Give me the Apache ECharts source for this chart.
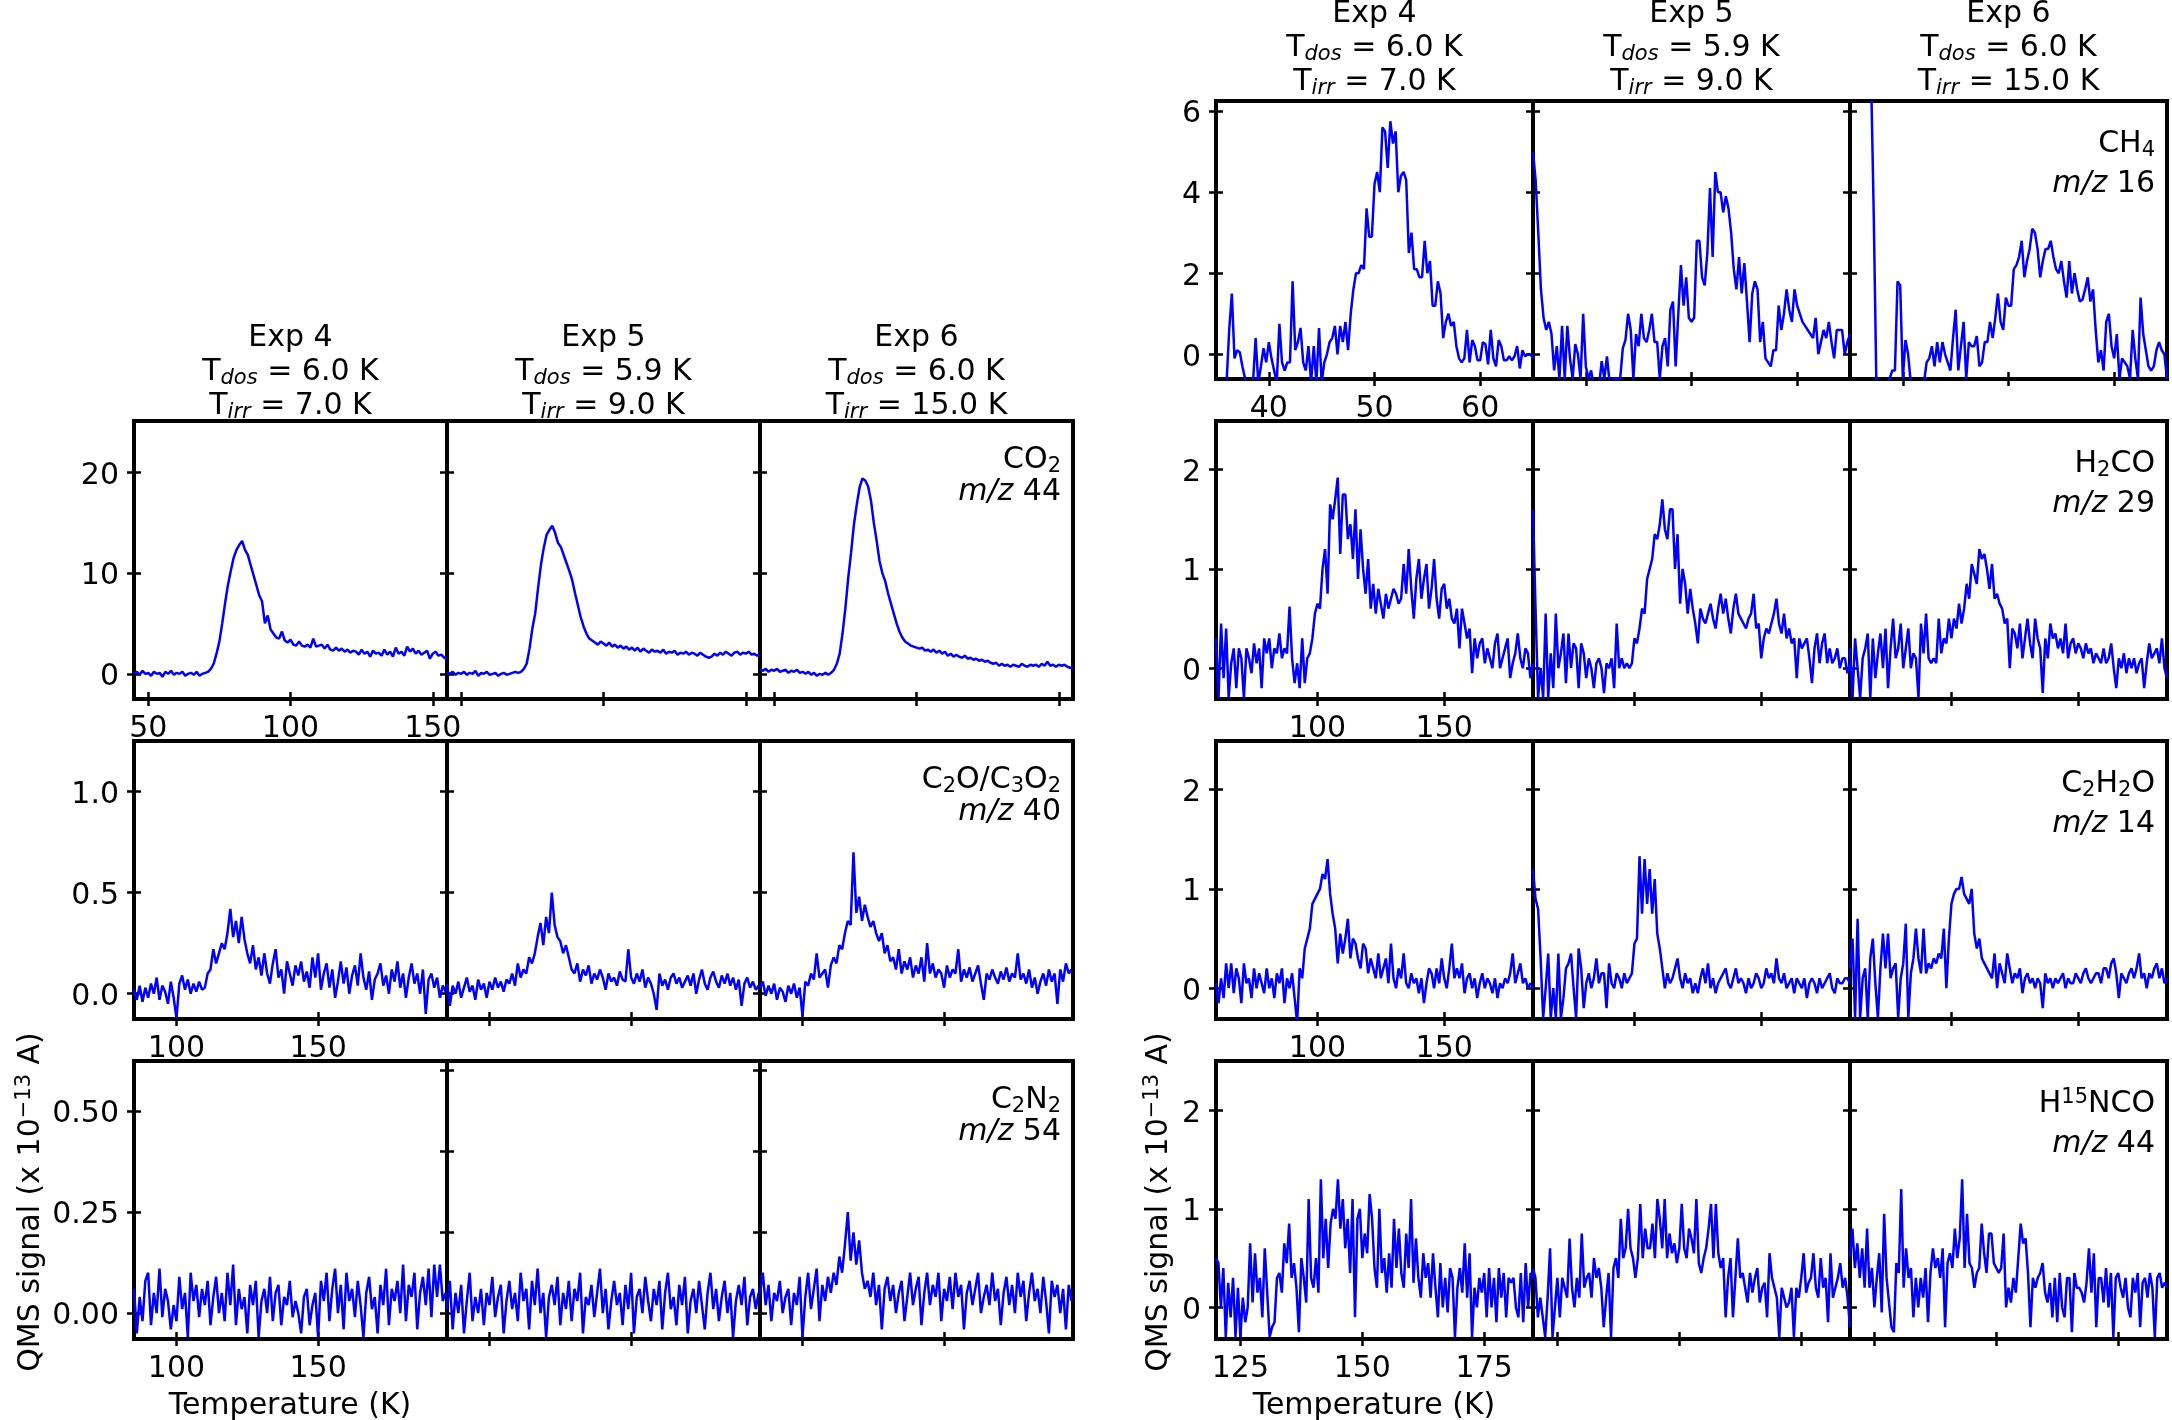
<!DOCTYPE html>
<html>
<head>
<meta charset="utf-8">
<script src="https://cdn.jsdelivr.net/npm/echarts@6/dist/echarts.min.js"></script>
<style>
  html, body { margin: 0; padding: 0; background: #fff; }
  #chart { width: 2172px; height: 1420px; }
</style>
</head>
<body>
<div id="chart"></div>
<script>
// ---- temperature grids (K) ----
const tempCO2 = [45,46,47,48,49,50,51,52,53,54,55,56,57,58,59,60,61,62,63,64,65,66,67,68,69,70,71,72,73,74,
  75,76,77,78,79,80,81,82,83,84,85,86,87,88,89,90,91,92,93,94,95,96,97,98,99,100,101,102,103,104,
  105,106,107,108,109,110,111,112,113,114,115,116,117,118,119,120,121,122,123,124,125,126,127,128,129,130,
  131,132,133,134,135,136,137,138,139,140,141,142,143,144,145,146,147,148,149,150,151,152,153,154,155];
const tempLeft = [85,86,87,88,89,90,91,92,93,94,95,96,97,98,99,100,101,102,103,104,105,106,107,108,109,110,
  111,112,113,114,115,116,117,118,119,120,121,122,123,124,125,126,127,128,129,130,131,132,133,134,135,
  136,137,138,139,140,141,142,143,144,145,146,147,148,149,150,151,152,153,154,155,156,157,158,159,160,
  161,162,163,164,165,166,167,168,169,170,171,172,173,174,175,176,177,178,179,180,181,182,183,184,185,
  186,187,188,189,190,191,192,193,194,195];
const tempCH4 = [35,35.25,35.5,35.75,36,36.25,36.5,36.75,37,37.25,37.5,37.75,38,38.25,38.5,38.75,39,39.25,39.5,39.75,
  40,40.25,40.5,40.75,41,41.25,41.5,41.75,42,42.25,42.5,42.75,43,43.25,43.5,43.75,44,44.25,44.5,44.75,
  45,45.25,45.5,45.75,46,46.25,46.5,46.75,47,47.25,47.5,47.75,48,48.25,48.5,48.75,49,49.25,49.5,49.75,
  50,50.25,50.5,50.75,51,51.25,51.5,51.75,52,52.25,52.5,52.75,53,53.25,53.5,53.75,54,54.25,54.5,54.75,
  55,55.25,55.5,55.75,56,56.25,56.5,56.75,57,57.25,57.5,57.75,58,58.25,58.5,58.75,59,59.25,59.5,59.75,
  60,60.25,60.5,60.75,61,61.25,61.5,61.75,62,62.25,62.5,62.75,63,63.25,63.5,63.75,64,64.25,64.5,64.75,65];
const tempMid = [60,61,62,63,64,65,66,67,68,69,70,71,72,73,74,75,76,77,78,79,80,81,82,83,84,85,86,87,88,89,
  90,91,92,93,94,95,96,97,98,99,100,101,102,103,104,105,106,107,108,109,110,111,112,113,114,115,116,117,118,119,
  120,121,122,123,124,125,126,127,128,129,130,131,132,133,134,135,136,137,138,139,140,141,142,143,144,145,146,147,148,149,
  150,151,152,153,154,155,156,157,158,159,160,161,162,163,164,165,166,167,168,169,170,171,172,173,174,175,176,177,178,179,
  180,181,182,183,184,185];
const tempHNCO = [120,120.5,121,121.5,122,122.5,123,123.5,124,124.5,125,125.5,126,126.5,127,127.5,128,128.5,129,129.5,
  130,130.5,131,131.5,132,132.5,133,133.5,134,134.5,135,135.5,136,136.5,137,137.5,138,138.5,139,139.5,
  140,140.5,141,141.5,142,142.5,143,143.5,144,144.5,145,145.5,146,146.5,147,147.5,148,148.5,149,149.5,
  150,150.5,151,151.5,152,152.5,153,153.5,154,154.5,155,155.5,156,156.5,157,157.5,158,158.5,159,159.5,
  160,160.5,161,161.5,162,162.5,163,163.5,164,164.5,165,165.5,166,166.5,167,167.5,168,168.5,169,169.5,
  170,170.5,171,171.5,172,172.5,173,173.5,174,174.5,175,175.5,176,176.5,177,177.5,178,178.5,179,179.5,
  180,180.5,181,181.5,182,182.5,183,183.5,184,184.5,185];

// ---- QMS signals (x 1e-13 A) ----
const co2Exp4 = [0.0,0.2,-0.1,0.3,0.0,0.1,-0.2,0.2,0.0,0.1, -0.3,0.2,0.0,0.3,-0.1,0.1,0.0,0.2,-0.2,0.0,
  0.1,-0.1,0.2,-0.2,0.0,0.1,0.2,0.5,1.0,2.0, 3.2,5.0,7.0,8.8,10.2,11.5,12.3,12.8,13.2,12.3,
  11.8,10.8,9.8,8.8,7.8,7.2,5.0,5.8,4.4,4.0, 3.6,3.5,4.2,3.3,3.1,3.4,2.9,2.8,3.2,2.8,
  2.7,2.9,2.6,3.5,2.7,2.8,2.9,2.5,2.9,2.4, 2.3,2.6,2.3,2.5,2.2,2.4,2.1,2.3,2.2,1.9,
  2.4,2.0,2.2,1.7,2.3,2.0,2.1,1.8,2.4,1.9, 2.2,1.7,2.6,2.0,2.2,1.8,2.7,2.2,2.5,2.0,
  2.3,1.9,2.1,2.3,1.5,2.0,2.2,1.8,1.9,1.6, 1.5];
const co2Exp5 = [0.1,0.0,0.2,-0.1,0.1,0.0,0.2,-0.1,0.1,0.0, 0.3,-0.2,0.1,0.0,0.2,-0.1,0.0,0.1,-0.2,0.0,
  0.1,-0.1,0.0,0.1,0.2,0.1,0.2,0.5,1.0,2.5, 4.5,6.0,8.5,10.8,12.5,13.8,14.3,14.7,14.0,13.0,
  12.6,11.8,11.0,10.2,9.3,8.0,6.8,5.6,4.7,4.0, 3.5,3.3,3.1,2.9,3.2,3.0,2.8,3.1,2.7,2.9,
  2.6,2.8,2.5,2.7,2.4,2.6,2.3,2.6,2.2,2.5, 2.3,2.1,2.4,2.2,2.3,2.1,2.4,2.0,2.2,2.1,
  2.3,1.9,2.1,2.0,2.2,1.9,2.1,2.0,1.8,2.1, 1.9,1.7,1.6,1.7,2.0,1.8,2.1,1.9,2.2,2.0,
  1.8,2.1,2.2,1.9,2.1,2.0,2.2,1.9,2.0,1.8, 1.9];
const co2Exp6 = [0.4,0.3,0.5,0.2,0.4,0.3,0.5,0.2,0.3,0.4, 0.1,0.3,0.2,0.4,0.1,0.2,0.0,0.2,-0.1,0.1,
  -0.2,0.0,-0.1,0.1,-0.1,0.1,0.4,1.0,2.0,4.0, 6.5,9.5,12.0,14.8,16.8,18.5,19.4,19.2,18.6,17.2,
  15.0,13.2,11.2,10.0,9.2,8.0,7.0,6.0,5.0,4.2, 3.6,3.2,3.0,2.8,2.7,2.6,2.5,2.6,2.3,2.4,
  2.2,2.4,2.1,2.3,2.0,2.2,1.8,2.0,1.7,1.9, 1.7,1.6,1.8,1.5,1.6,1.4,1.5,1.3,1.4,1.2,
  1.3,1.1,1.0,1.1,0.8,1.0,0.8,0.9,0.7,0.9, 0.8,0.7,1.0,0.8,0.7,0.9,0.8,0.9,0.7,1.0,
  0.8,1.2,0.8,0.9,0.7,0.9,0.8,0.9,0.7,0.6, 0.5];

const c2oExp4 = [0.02,-0.03,0.04,-0.04,0.03,-0.02,0.05,0.0,0.08,-0.03, 0.04,0.01,-0.05,0.06,-0.02,-0.12,0.05,0.09,0.02,0.07,
  0.0,0.05,0.01,0.06,0.02,0.03,0.1,0.12,0.22,0.15, 0.2,0.25,0.22,0.3,0.42,0.28,0.36,0.25,0.38,0.27,
  0.2,0.15,0.24,0.12,0.18,0.09,0.2,0.1,0.05,0.15, 0.22,0.08,0.12,0.0,0.16,0.1,0.04,0.14,0.09,0.16,
  0.06,0.11,0.03,0.18,0.08,0.2,0.02,0.1,0.15,0.03, 0.12,-0.02,0.06,0.16,0.05,0.13,0.0,0.09,0.14,0.04,
  0.2,0.08,0.02,0.11,-0.03,0.07,0.1,0.15,0.04,0.09, 0.0,0.12,0.06,0.16,0.03,0.1,-0.02,0.08,0.15,0.05,
  0.1,0.0,0.12,-0.1,0.07,0.1,0.03,0.08,-0.02,0.04, 0.01];
const c2oExp5 = [0.05,-0.06,0.04,0.0,0.06,-0.02,0.03,0.08,0.01,0.04, -0.03,0.07,0.02,0.05,-0.02,0.06,0.02,0.08,0.03,0.06,
  0.01,0.07,0.05,0.1,0.04,0.15,0.08,0.12,0.1,0.18, 0.15,0.2,0.28,0.35,0.24,0.38,0.3,0.5,0.34,0.28,
  0.26,0.2,0.24,0.18,0.12,0.1,0.15,0.06,0.12,0.09, 0.14,0.05,0.1,0.07,0.12,0.08,0.02,0.1,0.06,0.08,
  0.04,0.11,0.07,0.06,0.22,0.08,0.05,0.1,0.06,0.12, 0.03,0.08,0.05,0.0,-0.08,0.1,0.04,0.07,0.02,0.08,
  0.1,0.05,0.08,0.03,0.06,0.09,0.04,0.1,0.0,0.07, 0.12,0.05,0.02,0.08,0.11,0.06,0.03,0.09,0.05,0.1,
  0.04,0.08,0.02,0.07,-0.06,0.05,0.08,0.03,0.06,0.02, 0.04];
const c2oExp6 = [0.03,0.06,-0.01,0.04,0.0,0.05,-0.03,0.03,0.01,-0.04, 0.04,0.0,0.05,-0.02,0.03,-0.11,0.06,0.04,0.1,0.07,
  0.2,0.08,0.1,0.12,0.03,0.14,0.18,0.15,0.24,0.22, 0.3,0.36,0.34,0.7,0.4,0.48,0.36,0.44,0.38,0.33,
  0.36,0.3,0.26,0.3,0.2,0.24,0.16,0.18,0.12,0.22, 0.1,0.16,0.12,0.18,0.08,0.14,0.1,0.18,0.06,0.25,
  0.1,0.15,0.08,0.12,0.1,0.03,0.14,0.08,0.12,0.1, 0.22,0.06,0.12,0.08,0.13,0.06,0.1,0.14,0.05,-0.03,
  0.1,0.07,0.12,0.08,0.05,0.11,0.07,0.13,0.06,0.1, 0.08,0.2,0.07,0.1,0.05,0.12,0.03,0.08,0.0,0.06,
  0.1,0.04,0.12,0.06,0.1,-0.05,0.12,0.06,0.15,0.1, 0.12];

const c2n2Exp4 = [0.06,-0.05,0.04,-0.02,0.08,0.1,-0.03,0.05,0.0,0.11, -0.01,0.06,0.03,-0.04,0.02,-0.02,0.09,0.01,0.05,-0.06,
  0.1,0.03,0.07,-0.01,0.06,0.02,0.08,-0.03,0.04,0.09, 0.0,0.05,-0.02,0.1,0.02,0.12,-0.03,0.06,0.01,0.04,
  -0.05,0.07,0.02,0.08,-0.06,0.03,0.06,0.0,0.09,-0.02, 0.05,0.07,-0.03,0.04,0.02,0.08,-0.01,0.03,0.0,-0.05,
  0.04,0.06,-0.03,0.02,0.05,-0.06,0.08,0.03,0.1,-0.02, 0.06,0.11,0.0,0.07,-0.04,0.1,0.03,0.06,-0.01,0.08,
  0.02,-0.06,0.05,0.09,0.01,0.04,-0.05,0.07,0.02,0.11, -0.03,0.06,0.03,0.08,0.0,0.12,-0.02,0.07,0.04,0.1,
  -0.04,0.05,0.09,0.02,0.11,-0.01,0.12,0.04,0.12,0.03, 0.05];
const c2n2Exp5 = [0.01,0.08,-0.04,0.05,0.0,0.07,-0.05,0.03,0.1,-0.02, 0.04,0.0,0.06,-0.03,0.05,0.02,0.09,-0.01,0.04,0.07,
  -0.05,0.03,0.08,0.01,0.05,-0.02,0.1,0.03,0.06,-0.04, 0.08,0.02,0.11,0.0,0.05,-0.06,0.04,0.07,0.02,0.09,
  -0.03,0.05,0.01,0.08,-0.02,0.06,0.03,0.1,-0.05,0.04, 0.02,0.07,-0.01,0.05,0.11,0.0,0.06,-0.04,0.03,0.08,
  0.02,0.05,-0.03,0.07,0.01,0.1,-0.05,0.04,0.06,0.0, 0.09,0.03,-0.02,0.06,0.02,0.08,-0.04,0.05,0.1,0.01,
  0.04,-0.03,0.07,0.02,0.09,-0.05,0.03,0.06,0.0,0.08, 0.02,-0.04,0.05,0.1,0.01,0.06,-0.02,0.04,0.08,0.0,
  0.05,-0.06,0.03,0.07,0.02,0.09,-0.03,0.04,0.06,0.01, 0.05];
const c2n2Exp6 = [0.05,0.1,0.02,0.07,-0.02,0.05,0.03,0.08,0.0,0.04, 0.06,-0.03,0.05,0.02,0.09,-0.06,0.04,0.1,0.01,0.06,
  0.11,-0.02,0.07,0.03,0.09,0.05,0.1,0.07,0.14,0.1, 0.17,0.25,0.13,0.2,0.12,0.18,0.1,0.06,0.08,0.04,
  0.1,0.02,0.07,-0.04,0.06,0.09,0.03,0.07,0.0,0.05, 0.08,-0.02,0.04,0.1,0.02,0.06,0.09,-0.03,0.05,0.1,
  0.02,0.07,0.04,0.1,-0.02,0.06,0.03,0.09,0.01,0.1, 0.04,0.07,-0.04,0.05,0.08,0.02,0.06,0.1,0.0,0.04,
  0.07,0.02,0.1,0.03,0.06,-0.03,0.05,0.09,0.02,0.07, 0.0,0.1,0.04,0.08,-0.02,0.05,0.1,0.03,0.06,0.0,
  0.09,0.03,-0.05,0.08,0.04,0.07,0.0,0.06,-0.04,0.07, 0.03];

const ch4Exp4 = [-0.8,-0.8,-0.8,-0.8,-0.7,0.6,1.5,-0.1,0.1,0.05, -0.3,-0.6,-0.8,-0.8,-0.7,0.4,-0.7,-0.3,0.15,-0.2,
  0.3,-0.1,-0.4,-0.7,0.75,-0.2,-0.4,-0.2,-0.2,1.8, 0.1,0.3,0.65,-0.2,-0.4,0.2,-0.7,0.2,-0.7,0.65,
  -0.7,-0.2,0.0,0.3,0.4,0.7,0.0,0.7,0.3,0.8, 0.1,1.0,1.6,2.0,2.0,2.2,2.1,3.6,2.9,2.9,
  4.2,4.5,4.0,5.6,5.5,4.6,5.75,5.2,5.5,4.0, 4.4,4.5,4.3,2.5,3.0,2.1,2.1,1.9,1.9,2.8,
  2.0,2.3,1.2,1.2,1.8,1.5,0.4,0.8,1.0,0.7, 0.8,0.2,-0.1,-0.2,-0.1,0.6,-0.2,0.35,0.2,-0.15,
  -0.15,0.3,0.25,-0.25,0.6,-0.1,-0.3,0.35,0.2,-0.15, -0.15,-0.05,-0.15,-0.05,0.2,-0.35,0.1,-0.05,0.0,0.0, -0.1];
const ch4Exp5 = [5.0,4.3,3.0,1.6,0.9,0.6,0.8,0.5,-0.4,0.2, -0.6,0.7,-0.6,0.7,-0.1,-0.6,0.25,0.0,-0.6,1.0,
  -0.3,-0.6,-0.4,-0.8,-0.8,-0.8,-0.17,-0.6,-0.05,-0.7, -0.7,-0.6,-0.6,-0.6,0.15,0.35,1.0,0.6,-0.6,0.5,
  0.2,1.0,0.4,0.3,0.6,1.0,0.3,0.3,-0.6,0.2, 0.4,-0.3,1.1,1.3,-0.3,1.0,2.2,1.2,1.9,0.9,
  0.8,0.9,2.8,2.8,1.9,1.7,2.5,4.1,2.4,4.5, 4.0,4.0,3.5,3.9,3.6,3.0,2.1,1.6,2.4,1.5,
  2.25,1.3,0.3,1.5,1.8,1.6,0.3,0.8,-0.1,-0.2, -0.3,0.1,0.1,1.2,0.6,1.0,1.6,1.1,0.8,1.6,
  1.2,1.0,0.8,0.7,0.6,0.5,0.4,0.9,0.0,0.3, 0.6,0.4,0.8,0.3,-0.1,0.6,0.6,0.6,0.0,0.3, 0.5];
const ch4Exp6 = [9,9,9,9,9,9,9,9,6.8,3.4, -0.8,-0.8,-0.8,-0.8,-0.7,-0.6,-0.4,-0.4,1.8,1.7,
  -0.6,0.35,0.0,-0.7,-0.8,-0.8,-0.8,-0.8,-0.7,-0.2, -0.1,0.2,-0.3,0.3,-0.2,0.3,0.0,-0.2,-0.4,0.4,
  1.1,-0.4,0.2,0.8,-0.6,0.3,0.2,0.2,0.45,-0.3, -0.2,0.3,0.3,0.8,0.4,0.9,1.5,0.8,0.6,1.4,
  1.2,1.2,2.1,2.2,2.4,2.8,1.9,2.3,2.6,3.1, 3.0,2.6,1.9,2.3,2.6,2.6,2.8,2.4,2.1,2.0,
  2.3,1.8,1.4,2.3,1.5,2.0,1.6,1.3,1.35,1.6, 1.9,1.3,1.6,0.6,-0.2,0.1,-0.4,0.8,1.0,0.2,
  -0.1,0.5,-0.6,-0.1,-0.2,-0.3,-0.6,0.6,-0.1,-0.6, 1.4,0.5,0.1,-0.3,-0.4,-0.3,0.1,0.3,0.1,0.0, -0.6];

const h2coExp4 = [0.3,-0.3,0.45,-0.1,0.4,-0.3,0.05,0.2,-0.2,0.2, 0.1,-0.3,0.2,0.1,-0.05,0.25,0.05,0.2,-0.2,0.3,
  0.15,0.3,0.0,0.2,0.15,0.35,0.1,0.2,0.15,0.62, 0.1,-0.15,0.05,-0.2,0.3,-0.15,0.1,0.15,0.3,0.55,
  0.65,0.6,1.0,1.2,0.75,1.65,1.5,1.7,1.92,1.15, 1.75,1.75,1.3,1.45,1.1,1.6,0.9,1.4,1.0,0.75,
  1.1,0.6,0.85,0.55,0.8,0.65,0.5,0.75,0.6,0.7, 0.8,0.75,0.65,0.7,1.05,0.75,1.2,0.8,0.5,0.9,
  1.1,0.7,0.9,1.05,0.6,0.8,1.1,0.7,0.5,0.8, 0.85,0.6,0.7,0.5,0.45,0.6,0.2,0.6,0.45,0.3,
  0.4,-0.05,0.3,0.1,0.25,0.3,0.05,0.2,0.1,0.0, 0.25,0.35,0.0,0.1,0.2,0.3,-0.1,0.05,0.15,0.35,
  0.1,0.0,0.2,0.15,-0.1,0.05];
const h2coExp5 = [1.6,0.6,-0.3,0.0,-0.3,0.55,-0.3,0.15,-0.2,0.55, 0.0,0.15,0.35,-0.15,0.35,0.0,0.25,0.2,-0.2,0.25,
  0.15,-0.1,0.1,0.0,-0.2,0.05,0.1,0.0,-0.25,0.05, 0.0,0.1,-0.2,0.45,0.0,0.1,0.0,0.05,0.0,0.05,
  0.3,0.25,0.4,0.6,0.55,0.9,1.0,1.1,1.35,1.3, 1.45,1.7,1.4,1.3,1.6,1.6,1.0,1.35,0.65,1.0,
  0.85,0.55,0.8,0.6,0.45,0.25,0.6,0.5,0.45,0.55, 0.65,0.5,0.4,0.6,0.75,0.55,0.7,0.5,0.35,0.6,
  0.75,0.55,0.5,0.45,0.4,0.5,0.55,0.75,0.4,0.45, 0.1,0.3,0.4,0.35,0.45,0.55,0.7,0.45,0.35,0.55,
  0.3,0.4,0.25,0.3,-0.1,0.3,0.2,0.25,0.3,0.1, -0.15,0.2,0.35,0.05,0.25,0.35,0.05,0.2,0.05,0.1,
  0.2,0.0,0.1,0.1,-0.05,0.05];
const h2coExp6 = [0.2,-0.3,0.3,0.0,-0.3,0.1,0.2,0.35,-0.3,0.3, -0.1,0.15,0.35,0.0,0.4,-0.2,0.2,0.5,0.1,0.2,
  0.45,0.0,0.2,0.4,0.0,0.15,0.1,-0.3,0.45,0.15, 0.55,0.1,0.05,0.1,0.05,0.5,0.15,0.3,0.25,0.5,
  0.3,0.5,0.4,0.65,0.45,0.6,0.85,0.7,1.05,0.95, 0.85,1.2,1.1,1.15,1.0,0.8,1.05,0.7,0.75,0.65,
  0.6,0.45,0.5,0.0,0.4,0.35,0.2,0.45,0.1,0.3, 0.5,0.25,0.1,0.5,0.3,0.2,-0.25,0.3,0.1,0.45,
  0.3,0.35,0.2,0.3,0.15,0.45,0.1,0.25,0.3,0.15, 0.25,0.2,0.1,0.25,0.15,0.2,0.05,0.15,0.1,0.05,
  0.2,0.05,0.1,0.25,0.0,-0.2,0.1,0.0,0.15,-0.05, 0.1,0.0,0.1,-0.05,0.05,0.1,-0.2,0.05,0.25,0.1,
  0.15,0.2,0.05,0.3,0.0,-0.1];

const c2h2oExp4 = [0.05,-0.15,0.1,-0.1,0.25,0.0,0.25,-0.05,0.2,0.1, -0.15,0.25,0.05,0.1,-0.1,0.2,0.0,0.15,0.05,-0.05,
  0.2,0.0,0.1,-0.1,0.15,0.05,0.2,-0.15,0.1,0.0, 0.15,-0.1,-0.35,0.2,0.1,0.4,0.5,0.6,0.85,0.9,
  0.95,1.0,1.15,1.1,1.3,0.95,0.75,0.6,0.25,0.55, 0.35,0.5,0.7,0.3,0.5,0.45,0.3,0.2,0.45,0.4,
  0.15,0.3,0.2,0.1,0.35,0.1,0.2,0.3,0.05,0.45, 0.1,0.0,0.2,0.1,0.35,0.05,0.0,0.15,0.05,0.1,
  -0.05,0.1,-0.15,0.05,0.2,0.15,0.0,0.2,0.05,0.3, 0.1,0.0,0.2,0.45,0.1,0.2,0.1,0.25,-0.05,0.1,
  0.15,0.0,0.1,-0.1,0.05,0.15,0.0,0.1,0.05,-0.05, 0.1,-0.1,0.05,0.0,0.1,0.05,0.15,0.35,0.05,0.15,
  0.25,0.05,0.1,0.0,0.05,0.0];
const c2h2oExp5 = [1.2,0.9,0.8,0.3,-0.3,0.0,0.35,-0.3,0.0,-0.3, 0.35,-0.3,-0.1,0.2,0.25,0.35,0.0,-0.3,0.4,0.2,
  -0.2,0.05,0.15,0.0,0.1,0.3,0.05,0.15,0.15,-0.2, 0.25,0.05,0.0,0.15,0.1,0.0,0.15,0.05,0.1,0.15,
  0.45,0.5,1.33,0.75,1.3,0.85,1.2,0.75,1.1,0.55, 0.4,0.2,0.0,0.15,0.05,0.1,0.2,0.3,0.1,0.0,
  0.15,0.05,0.1,-0.05,0.05,-0.05,0.1,0.2,0.05,0.25, 0.0,0.1,-0.05,0.05,0.1,0.15,0.2,0.05,0.0,0.1,
  0.2,0.05,0.1,0.05,-0.05,0.1,0.0,0.05,0.15,0.1, 0.0,0.05,0.2,0.1,0.15,0.05,0.3,0.1,0.05,0.15,
  0.0,0.05,0.1,-0.05,0.1,0.05,0.0,0.1,-0.1,0.05, 0.1,0.05,-0.05,0.1,0.0,0.05,0.1,0.15,0.0,-0.05,
  0.1,0.05,0.05,0.1,0.1,0.05];
const c2h2oExp6 = [0.2,0.5,-0.3,0.7,-0.3,0.1,0.2,-0.3,0.3,0.5, 0.05,-0.3,0.2,0.55,0.2,0.55,0.1,0.2,0.25,-0.3,
  0.1,0.25,0.65,-0.3,0.15,0.3,0.6,0.3,0.15,0.6, 0.15,0.25,0.2,0.3,0.25,0.35,0.3,0.6,0.0,0.5,
  0.85,0.95,1.0,1.0,1.12,0.95,0.9,0.85,1.0,0.55, 0.4,0.5,0.3,0.25,0.2,0.15,0.1,0.35,0.0,0.25,
  0.15,0.05,0.35,0.2,0.05,0.15,0.1,0.2,-0.05,0.1, 0.15,0.05,0.1,0.0,0.1,0.05,-0.2,0.15,0.05,0.1,
  0.0,0.1,0.05,0.1,0.15,0.0,0.1,0.05,0.05,0.15, 0.1,0.05,0.15,0.2,0.1,0.05,0.1,0.15,0.15,0.05,
  0.2,0.2,0.1,0.25,0.3,0.15,-0.1,0.15,0.1,0.05, 0.15,0.2,0.1,0.2,0.35,0.1,0.15,0.0,0.15,0.1,
  0.2,0.25,0.1,0.2,0.05,0.1];

const hncoExp4 = [0.5,0.45,0.0,0.4,-0.3,0.25,-0.1,0.3,-0.3,0.2, -0.3,0.1,-0.15,0.0,0.65,0.05,0.55,0.15,0.3,-0.1,
  0.6,0.15,-0.3,-0.2,-0.15,0.3,0.35,0.15,0.65,0.45, 0.85,0.3,0.45,0.2,-0.25,0.5,0.3,0.05,1.1,0.3,
  0.2,0.5,0.15,1.3,0.5,0.9,0.4,0.85,1.0,0.9, 1.3,0.8,1.1,0.6,0.9,0.35,1.1,-0.1,0.9,1.0,
  0.5,0.75,0.55,1.15,0.9,0.4,0.2,1.0,0.35,0.5, 0.15,0.55,0.2,0.9,0.4,0.8,0.35,0.2,0.75,0.4,
  1.1,0.25,0.7,0.3,0.1,0.55,0.3,0.45,0.1,0.55, 0.2,-0.1,0.45,0.0,0.3,-0.05,0.4,0.3,-0.3,0.2,
  0.4,0.15,0.65,0.1,0.55,-0.3,0.2,0.0,0.3,0.15, 0.35,-0.1,0.4,0.0,0.3,-0.15,0.4,0.1,0.35,-0.1,
  0.3,0.25,0.3,0.0,-0.1,0.35,-0.15,0.45,0.0,0.35, 0.3];
const hncoExp5 = [0.4,0.3,-0.1,0.1,-0.1,-0.3,0.1,0.6,-0.3,0.0, 0.3,-0.1,0.3,0.2,0.1,0.7,0.2,0.0,0.3,0.1,
  0.75,0.2,0.3,0.35,0.1,0.5,0.3,0.4,0.2,-0.2, 0.1,0.35,-0.3,0.4,0.5,0.3,0.9,0.5,0.6,1.0,
  0.6,0.5,0.3,0.5,1.05,0.5,0.8,0.6,0.6,0.85, 0.5,1.1,0.9,0.6,1.1,0.5,0.75,0.55,0.65,0.45,
  0.6,1.05,0.6,0.5,0.8,0.7,0.55,1.1,0.45,0.35, 0.5,0.6,0.8,1.05,0.5,1.05,0.55,0.4,0.5,-0.1,
  0.3,0.5,-0.1,0.3,0.7,0.3,0.35,0.2,0.05,0.35, 0.15,0.3,0.4,0.05,0.2,0.25,-0.1,0.55,0.3,0.2,
  0.1,-0.3,0.2,0.1,0.0,0.05,0.2,-0.3,0.2,0.1, 0.3,0.55,0.15,0.25,0.3,0.55,0.2,0.1,0.5,0.2,
  0.3,-0.15,0.55,0.1,0.2,0.3,0.45,0.2,0.3,0.1, -0.2];
const hncoExp6 = [0.5,0.8,0.4,0.65,0.3,0.6,0.2,0.8,0.2,0.4, 0.0,0.3,0.55,-0.05,0.95,0.3,0.05,-0.2,-0.25,0.45,
  0.35,1.2,0.2,0.6,0.3,0.4,-0.1,0.3,0.0,0.3, 0.1,0.4,-0.15,0.35,0.6,0.4,0.5,0.3,0.6,-0.2,
  0.45,0.55,0.4,0.8,0.5,0.7,1.3,0.4,0.95,0.45, 0.4,0.2,0.35,0.4,0.85,0.55,0.35,0.75,0.75,0.45,
  0.4,0.35,0.4,0.75,0.0,0.2,0.05,0.3,0.15,0.5, 0.85,0.65,0.7,0.35,-0.2,0.3,0.2,0.3,0.35,0.45,
  0.15,0.05,0.25,-0.1,0.3,-0.15,0.35,0.0,-0.1,0.3, 0.3,-0.25,0.35,0.2,0.2,0.15,0.05,0.25,0.6,0.15,
  0.55,-0.2,0.3,0.3,0.05,0.4,0.0,0.35,-0.3,0.3, 0.35,0.2,0.1,0.3,0.0,-0.1,0.3,0.15,0.35,-0.2,
  0.25,0.3,0.1,0.35,0.2,-0.3,0.3,0.35,0.2,0.25, 0.2];

// ---- labels and ticks ----
const expNames = ['Exp 4', 'Exp 5', 'Exp 6'];
const dosingTemps = ['6.0', '5.9', '6.0'];
const irradiationTemps = ['7.0', '9.0', '15.0'];

const ticksCO2X = [50, 100, 150];
const ticksLeftX = [100, 150];
const ticksCH4X = [40, 50, 60];
const ticksMidX = [100, 150];
const ticksHNCOX = [125, 150, 175];
const ticksCO2Y = [0, 10, 20];
const ticksC2OY = [0, 0.5, 1.0];
const ticksC2N2Y = [0, 0.25, 0.5];
const ticksC2N2YInner = [0, 0.2, 0.4, 0.6];
const ticksCH4Y = [0, 2, 4, 6];
const ticksMidY = [0, 1, 2];

// ---- layout ----
const FONT = 'DejaVu Sans';
const BLUE = '#0000ff';
const FS = 30;
const blocks = {
  left:  { cols: [134, 447, 760], width: 313, headerGap: -2, labelDy: [39, 71] },
  right: { cols: [1216, 1533, 1850], width: 317, headerGap: 2, labelDy: [43, 83] }
};
const rowTops = [101, 421, 741, 1061];
const rowHeight = 278;

const panelRows = [
  { block: 'right', row: 0, temps: tempCH4, signals: [ch4Exp4, ch4Exp5, ch4Exp6],
    xRange: [35, 65], xTicks: ticksCH4X, yRange: [-0.61, 6.25], yTicks: ticksCH4Y, yTicksInner: ticksCH4Y, dec: 0,
    species: '{n|CH}{s|4}', mz: '16' },
  { block: 'right', row: 1, temps: tempMid, signals: [h2coExp4, h2coExp5, h2coExp6],
    xRange: [60, 185], xTicks: ticksMidX, yRange: [-0.31, 2.49], yTicks: ticksMidY, yTicksInner: ticksMidY, dec: 0,
    species: '{n|H}{s|2}{n|CO}', mz: '29' },
  { block: 'right', row: 2, temps: tempMid, signals: [c2h2oExp4, c2h2oExp5, c2h2oExp6],
    xRange: [60, 185], xTicks: ticksMidX, yRange: [-0.31, 2.49], yTicks: ticksMidY, yTicksInner: ticksMidY, dec: 0,
    species: '{n|C}{s|2}{n|H}{s|2}{n|O}', mz: '14' },
  { block: 'right', row: 3, temps: tempHNCO, signals: [hncoExp4, hncoExp5, hncoExp6],
    xRange: [120, 185], xTicks: ticksHNCOX, yRange: [-0.32, 2.5], yTicks: ticksMidY, yTicksInner: ticksMidY, dec: 0,
    species: '{n|H}{p|15}{n|NCO}', mz: '44' },
  { block: 'left', row: 1, temps: tempCO2, signals: [co2Exp4, co2Exp5, co2Exp6],
    xRange: [45, 155], xTicks: ticksCO2X, yRange: [-2.5, 25.1], yTicks: ticksCO2Y, yTicksInner: ticksCO2Y, dec: 0,
    species: '{n|CO}{s|2}', mz: '44' },
  { block: 'left', row: 2, temps: tempLeft, signals: [c2oExp4, c2oExp5, c2oExp6],
    xRange: [85, 195.5], xTicks: ticksLeftX, yRange: [-0.125, 1.25], yTicks: ticksC2OY, yTicksInner: ticksC2OY, dec: 1,
    species: '{n|C}{s|2}{n|O/C}{s|3}{n|O}{s|2}', mz: '40' },
  { block: 'left', row: 3, temps: tempLeft, signals: [c2n2Exp4, c2n2Exp5, c2n2Exp6],
    xRange: [85, 195.5], xTicks: ticksLeftX, yRange: [-0.064, 0.624], yTicks: ticksC2N2Y, yTicksInner: ticksC2N2YInner, dec: 2,
    species: '{n|C}{s|2}{n|N}{s|2}', mz: '54' }
];

const rich = {
  n: { fontFamily: FONT, fontSize: FS, lineHeight: 34, fill: '#000', color: '#000' },
  i: { fontFamily: FONT, fontSize: FS, lineHeight: 34, fontStyle: 'italic', fill: '#000', color: '#000' },
  s: { fontFamily: FONT, fontSize: 21, lineHeight: 14, verticalAlign: 'bottom', fill: '#000', color: '#000' },
  si: { fontFamily: FONT, fontSize: 21, lineHeight: 14, verticalAlign: 'bottom', fontStyle: 'italic', fill: '#000', color: '#000' },
  p: { fontFamily: FONT, fontSize: 21, lineHeight: 14, verticalAlign: 'top', fill: '#000', color: '#000' }
};

function label(text, x, y, align, vAlign, rotation) {
  return {
    type: 'text', x: x, y: y, rotation: rotation || 0, z: 10,
    style: { text: text, rich: rich, fontFamily: FONT, fontSize: FS, fill: '#000',
      align: align, verticalAlign: vAlign, textAlign: align, textVerticalAlign: vAlign }
  };
}

const grids = [], xAxes = [], yAxes = [], series = [], graphics = [];
const tickLine = { color: '#000', width: 2.5 };
const labelStyle = { fontFamily: FONT, fontSize: FS, color: '#000' };
// y tick labels sit slightly below the tick, as matplotlib's center_baseline does
const yTickRich = { v: { fontFamily: FONT, fontSize: FS, color: '#000', padding: [7, 0, 0, 0] } };

panelRows.forEach(pr => {
  const b = blocks[pr.block];
  const top = rowTops[pr.row];
  for (let c = 0; c < 3; c++) {
    const gi = grids.length;
    const left = b.cols[c];
    grids.push({ left: left, top: top, width: b.width, height: rowHeight, show: true,
      borderColor: '#000', borderWidth: 4, backgroundColor: 'transparent',
      containLabel: false, outerBoundsMode: 'none' });
    const first = c === 0;
    const yt = first ? pr.yTicks : pr.yTicksInner;
    const axBase = { gridIndex: gi, type: 'value', splitLine: { show: false },
      axisLine: { show: false, onZero: false } };
    // 'inout' ticks: one axis with outward ticks (and labels), one with inward ticks
    xAxes.push(Object.assign({}, axBase, { min: pr.xRange[0], max: pr.xRange[1], position: 'bottom',
      axisTick: { show: true, inside: false, length: 7, lineStyle: tickLine, customValues: pr.xTicks },
      axisLabel: Object.assign({ show: first, customValues: pr.xTicks, margin: 15,
        formatter: v => String(v) }, labelStyle) }));
    xAxes.push(Object.assign({}, axBase, { min: pr.xRange[0], max: pr.xRange[1], position: 'bottom',
      axisTick: { show: true, inside: true, length: 7, lineStyle: tickLine, customValues: pr.xTicks },
      axisLabel: { show: false } }));
    yAxes.push(Object.assign({}, axBase, { min: pr.yRange[0], max: pr.yRange[1], position: 'left',
      axisTick: { show: true, inside: false, length: 7, lineStyle: tickLine, customValues: yt },
      axisLabel: Object.assign({ show: first, customValues: yt, margin: 15, rich: yTickRich,
        formatter: v => '{v|' + Number(v).toFixed(pr.dec) + '}' }, labelStyle) }));
    yAxes.push(Object.assign({}, axBase, { min: pr.yRange[0], max: pr.yRange[1], position: 'left',
      axisTick: { show: true, inside: true, length: 7, lineStyle: tickLine, customValues: yt },
      axisLabel: { show: false } }));

    series.push({ type: 'line', xAxisIndex: 2 * gi, yAxisIndex: 2 * gi,
      data: pr.temps.map((t, i) => [t, pr.signals[c][i]]),
      showSymbol: false, symbol: 'none', clip: true, animation: false, silent: true,
      lineStyle: { color: BLUE, width: 2.5 } });
  }
  // species label in the right-most panel
  const right = b.cols[2] + b.width - 12;
  graphics.push(label(pr.species, right, top + b.labelDy[0], 'right', 'middle'));
  graphics.push(label('{i|m/z}{n| ' + pr.mz + '}', right, top + b.labelDy[1], 'right', 'middle'));
});

// column headers
['left', 'right'].forEach(k => {
  const b = blocks[k];
  const top = k === 'left' ? rowTops[1] : rowTops[0];
  for (let c = 0; c < 3; c++) {
    const txt = '{n|' + expNames[c] + '}\n{n|T}{si|dos}{n| = ' + dosingTemps[c] + ' K}\n{n|T}{si|irr}{n| = ' + irradiationTemps[c] + ' K}';
    graphics.push(label(txt, b.cols[c] + b.width / 2, top - b.headerGap, 'center', 'bottom'));
  }
});

// axis titles
const yTitle = '{n|QMS signal (x 10}{p|\u221213}{n| A)}';
graphics.push(label(yTitle, 31, 1202, 'center', 'middle', Math.PI / 2));
graphics.push(label(yTitle, 1159, 1202, 'center', 'middle', Math.PI / 2));
graphics.push(label('{n|Temperature (K)}', 290, 1406, 'center', 'middle'));
graphics.push(label('{n|Temperature (K)}', 1374, 1406, 'center', 'middle'));

const chart = echarts.init(document.getElementById('chart'), null, { renderer: 'canvas' });
chart.setOption({
  animation: false,
  backgroundColor: '#fff',
  grid: grids,
  xAxis: xAxes,
  yAxis: yAxes,
  series: series,
  graphic: { elements: graphics }
});
</script>
</body>
</html>
